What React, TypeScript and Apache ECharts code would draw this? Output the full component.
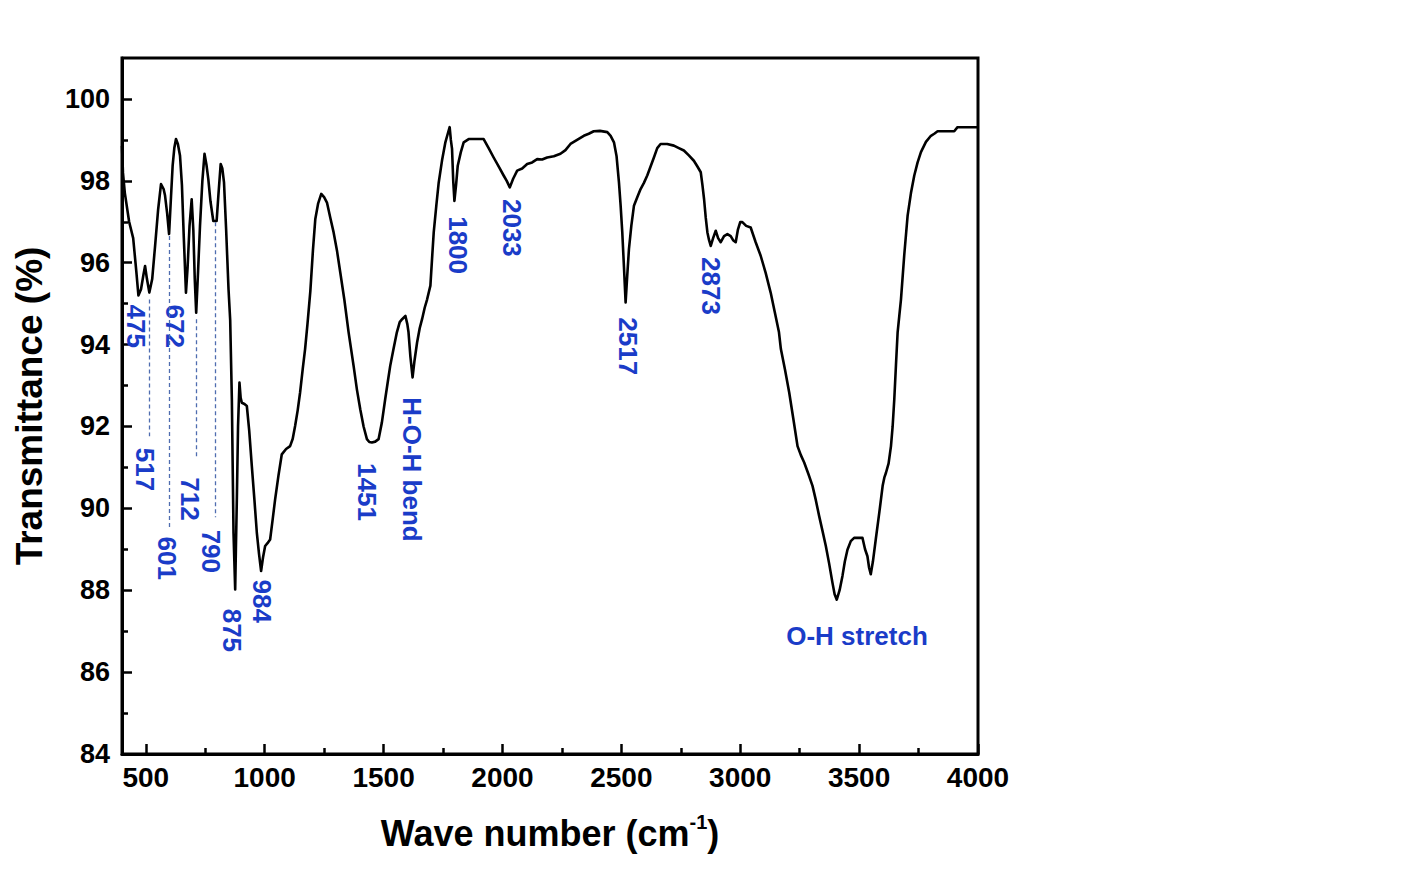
import React, { useEffect, useRef } from "react";
import * as echarts from "echarts";

const wavenumber = [
  400, 404, 412, 430, 447, 460, 469, 480, 490, 497, 505, 515, 527, 539, 552, 564, 575, 581, 590, 598,
  606, 613, 620, 627, 635, 644, 652, 660, 669, 676, 684, 693, 700, 706, 712, 720, 728, 738, 747, 755,
  763, 772, 784, 798, 806, 815, 822, 829, 838, 848, 855, 862, 869, 876, 879, 883, 888, 894, 899, 904,
  915, 925, 935, 946, 957, 967, 976, 985, 993, 1002, 1012, 1023, 1033, 1044, 1058, 1072, 1090, 1107, 1118, 1128,
  1139, 1149, 1160, 1170, 1180, 1192, 1203, 1213, 1225, 1238, 1250, 1262, 1276, 1290, 1304, 1318, 1335, 1353, 1374, 1388,
  1402, 1416, 1430, 1440, 1451, 1465, 1479, 1493, 1507, 1518, 1528, 1542, 1556, 1568, 1578, 1592, 1600, 1605, 1613, 1622,
  1630, 1641, 1652, 1662, 1673, 1683, 1697, 1704, 1711, 1722, 1732, 1746, 1760, 1770, 1778, 1783, 1788, 1793, 1798, 1805,
  1812, 1825, 1837, 1858, 1890, 1921, 1942, 1963, 1984, 2005, 2018, 2031, 2045, 2062, 2083, 2104, 2125, 2146, 2167, 2188,
  2216, 2244, 2265, 2286, 2314, 2342, 2363, 2384, 2410, 2441, 2455, 2469, 2480, 2490, 2497, 2504, 2511, 2518, 2525, 2532,
  2542, 2553, 2567, 2581, 2595, 2609, 2623, 2637, 2651, 2665, 2693, 2721, 2742, 2763, 2784, 2805, 2820, 2834, 2841, 2848,
  2855, 2862, 2869, 2876, 2886, 2897, 2907, 2918, 2932, 2946, 2960, 2970, 2981, 2990, 3000, 3009, 3025, 3044, 3065, 3086,
  3107, 3128, 3145, 3163, 3171, 3188, 3206, 3223, 3241, 3255, 3269, 3286, 3304, 3318, 3332, 3346, 3360, 3374, 3388, 3397,
  3406, 3418, 3430, 3440, 3451, 3465, 3479, 3500, 3514, 3525, 3535, 3542, 3549, 3558, 3570, 3585, 3599, 3606, 3613, 3624,
  3634, 3641, 3648, 3655, 3662, 3669, 3676, 3690, 3704, 3718, 3732, 3746, 3760, 3781, 3802, 3816, 3830, 3865, 3900, 3914,
  3960, 4000,
];

const transmittance = [
  98.85, 98.2, 97.7, 97.0, 96.6, 95.8, 95.2, 95.35, 95.7, 95.92, 95.6, 95.27, 95.6, 96.4, 97.3, 97.92, 97.8, 97.64, 97.2, 96.7,
  97.6, 98.37, 98.8, 99.02, 98.9, 98.61, 97.9, 96.6, 95.27, 95.9, 96.9, 97.55, 96.8, 95.6, 94.78, 95.8, 96.9, 98.0, 98.66, 98.4,
  98.04, 97.5, 97.02, 97.02, 97.7, 98.41, 98.3, 97.96, 96.8, 95.35, 94.6, 92.67, 89.4, 88.02, 89.0, 90.22, 92.0, 93.07, 92.7, 92.58,
  92.55, 92.5, 91.9, 91.03, 90.2, 89.41, 88.9, 88.47, 88.8, 89.08, 89.15, 89.24, 89.7, 90.22, 90.8, 91.32, 91.45, 91.52, 91.7, 92.01,
  92.4, 92.83, 93.4, 93.89, 94.5, 95.3, 96.3, 97.07, 97.45, 97.68, 97.6, 97.47, 97.1, 96.74, 96.3, 95.76, 95.1, 94.3, 93.48, 92.9,
  92.42, 92.0, 91.69, 91.62, 91.61, 91.63, 91.69, 92.1, 92.67, 93.1, 93.48, 93.9, 94.3, 94.55, 94.62, 94.7, 94.5, 94.3, 93.7, 93.2,
  93.6, 94.05, 94.4, 94.62, 94.9, 95.1, 95.44, 96.1, 96.74, 97.4, 97.96, 98.5, 98.94, 99.15, 99.31, 99.0, 98.78, 98.0, 97.51, 97.9,
  98.37, 98.7, 98.94, 99.02, 99.02, 99.02, 98.8, 98.57, 98.35, 98.13, 98.0, 97.84, 98.05, 98.25, 98.3, 98.41, 98.45, 98.53, 98.52, 98.57,
  98.6, 98.66, 98.75, 98.9, 99.0, 99.1, 99.15, 99.21, 99.22, 99.19, 99.1, 98.94, 98.6, 97.96, 97.4, 96.74, 95.9, 95.03, 95.7, 96.33,
  96.9, 97.39, 97.6, 97.8, 97.95, 98.13, 98.35, 98.57, 98.8, 98.9, 98.9, 98.86, 98.8, 98.74, 98.62, 98.49, 98.35, 98.21, 97.9, 97.55,
  97.1, 96.74, 96.55, 96.41, 96.6, 96.78, 96.6, 96.5, 96.65, 96.7, 96.65, 96.55, 96.5, 96.8, 96.99, 96.99, 96.9, 96.86, 96.5, 96.17,
  95.75, 95.27, 94.8, 94.3, 93.89, 93.4, 92.83, 92.2, 91.52, 91.3, 91.12, 90.85, 90.55, 90.2, 89.81, 89.45, 89.08, 88.65, 88.18, 87.9,
  87.77, 88.0, 88.35, 88.7, 88.99, 89.2, 89.28, 89.28, 89.28, 89.0, 88.83, 88.55, 88.39, 88.7, 89.24, 89.9, 90.55, 90.75, 90.87, 91.1,
  91.52, 92.0, 92.67, 93.5, 94.3, 94.7, 95.1, 96.2, 97.15, 97.7, 98.13, 98.45, 98.7, 98.95, 99.1, 99.15, 99.21, 99.21, 99.21, 99.31,
  99.31, 99.31,
];

const xTickValues = [500, 1000, 1500, 2000, 2500, 3000, 3500, 4000];
const xMinorTickValues = [750, 1250, 1750, 2250, 2750, 3250, 3750];
const yTickValues = [84, 86, 88, 90, 92, 94, 96, 98, 100];
const yMinorTickValues = [85, 87, 89, 91, 93, 95, 97, 99];

// Peak annotations (text, and centre of the text in data coordinates)
const peakLabels = ["475", "672", "517", "712", "601", "790", "875", "984", "1451", "H-O-H bend", "1800", "2033", "2517", "2873"];
const peakLabelX = [459, 623, 497, 686, 589, 775, 863, 990, 1432, 1621, 1815, 2042, 2526, 2876];
const peakLabelY = [94.45, 94.45, 90.95, 90.23, 88.78, 88.95, 87.02, 87.73, 90.4, 90.95, 96.43, 96.85, 93.96, 95.43];

const bandLabel = "O-H stretch";
const bandLabelX = 3491;
const bandLabelY = 86.87;

// Dashed guide lines
const guideX = [515, 598, 712, 792];
const guideTop = [95.1, 96.65, 94.62, 96.99];
const guideBottom = [91.76, 89.49, 91.27, 89.78];

const FONT = "'Liberation Sans', Arial, Helvetica, sans-serif";
const BLUE = "#1a3cc8";

export default function App() {
  const ref = useRef<HTMLDivElement>(null);

  useEffect(() => {
    if (!ref.current) return;
    const chart = echarts.init(ref.current, null, { renderer: "svg" });

    const spectrum = wavenumber.map((x, i) => [x, transmittance[i]]);

    const labelData: any[] = peakLabels.map((t, i) => ({
      name: t,
      value: [peakLabelX[i], peakLabelY[i]],
    }));
    labelData.push({
      name: bandLabel,
      value: [bandLabelX, bandLabelY],
      label: { rotate: 0 },
    });

    const option: any = {
      animation: false,
      backgroundColor: "#ffffff",
      grid: {
        left: 122,
        right: 450,
        top: 58,
        bottom: 118,
        show: true,
        borderColor: "#000",
        borderWidth: 3,
        backgroundColor: "transparent",
      },
      xAxis: [
        {
          type: "value",
          min: 400,
          max: 4000,
          position: "bottom",
          axisLine: { show: true, lineStyle: { color: "#000", width: 3 } },
          axisTick: {
            show: true,
            inside: true,
            length: 10,
            customValues: xTickValues,
            lineStyle: { color: "#000", width: 2.5 },
          },
          axisLabel: {
            customValues: xTickValues,
            formatter: (v: number) => String(v),
            color: "#000",
            fontSize: 28,
            fontWeight: "bold",
            fontFamily: FONT,
            margin: 9,
          },
          splitLine: { show: false },
          name: "{a|Wave number (cm}{s|-1}{a|)}",
          nameLocation: "middle",
          nameGap: 58,
          nameTextStyle: {
            color: "#000",
            rich: {
              a: { fontSize: 36, fontWeight: "bold", fontFamily: FONT, color: "#000", lineHeight: 42 },
              s: { fontSize: 20, fontWeight: "bold", fontFamily: FONT, color: "#000", verticalAlign: "top", lineHeight: 22 },
            },
          },
        },
        {
          type: "value",
          min: 400,
          max: 4000,
          position: "bottom",
          axisLine: { show: false },
          axisTick: {
            show: true,
            inside: true,
            length: 6,
            customValues: xMinorTickValues,
            lineStyle: { color: "#000", width: 2.5 },
          },
          axisLabel: { show: false },
          splitLine: { show: false },
        },
      ],
      yAxis: [
        {
          type: "value",
          min: 84,
          max: 101,
          position: "left",
          axisLine: { show: true, lineStyle: { color: "#000", width: 3 } },
          axisTick: {
            show: true,
            inside: true,
            length: 10,
            customValues: yTickValues,
            lineStyle: { color: "#000", width: 2.5 },
          },
          axisLabel: {
            customValues: yTickValues,
            formatter: (v: number) => String(v),
            color: "#000",
            fontSize: 27,
            fontWeight: "bold",
            fontFamily: FONT,
            margin: 12,
          },
          splitLine: { show: false },
          name: "Transmittance (%)",
          nameLocation: "middle",
          nameGap: 74,
          nameRotate: 90,
          nameTextStyle: { color: "#000", fontSize: 37, fontWeight: "bold", fontFamily: FONT },
        },
        {
          type: "value",
          min: 84,
          max: 101,
          position: "left",
          axisLine: { show: false },
          axisTick: {
            show: true,
            inside: true,
            length: 6,
            customValues: yMinorTickValues,
            lineStyle: { color: "#000", width: 2.5 },
          },
          axisLabel: { show: false },
          splitLine: { show: false },
        },
      ],
      series: [
        {
          type: "line",
          name: "FTIR",
          xAxisIndex: 0,
          yAxisIndex: 0,
          data: spectrum,
          showSymbol: false,
          symbol: "none",
          lineStyle: { color: "#000", width: 2.6, join: "round" },
          z: 3,
        },
        {
          type: "scatter",
          name: "labels",
          xAxisIndex: 0,
          yAxisIndex: 0,
          data: labelData,
          symbolSize: 0,
          silent: true,
          itemStyle: { color: BLUE, opacity: 1 },
          label: {
            show: true,
            formatter: "{b}",
            position: "inside",
            rotate: -90,
            align: "center",
            verticalAlign: "middle",
            color: BLUE,
            opacity: 1,
            textBorderWidth: 0,
            fontSize: 26,
            fontWeight: "bold",
            fontFamily: FONT,
          },
          markLine: {
            silent: true,
            symbol: ["none", "none"],
            animation: false,
            label: { show: false },
            lineStyle: { type: [4, 3], color: "#4f6db0", width: 1.3, opacity: 1 },
            data: guideX.map((x, i) => [
              { coord: [x, guideTop[i]] },
              { coord: [x, guideBottom[i]] },
            ]),
          },
          z: 4,
        },
      ],
    };

    chart.setOption(option);
    return () => {
      chart.dispose();
    };
  }, []);

  return (
    <div
      ref={ref}
      style={{ position: "fixed", left: 0, top: 0, width: 1428, height: 872, background: "#fff" }}
    />
  );
}
